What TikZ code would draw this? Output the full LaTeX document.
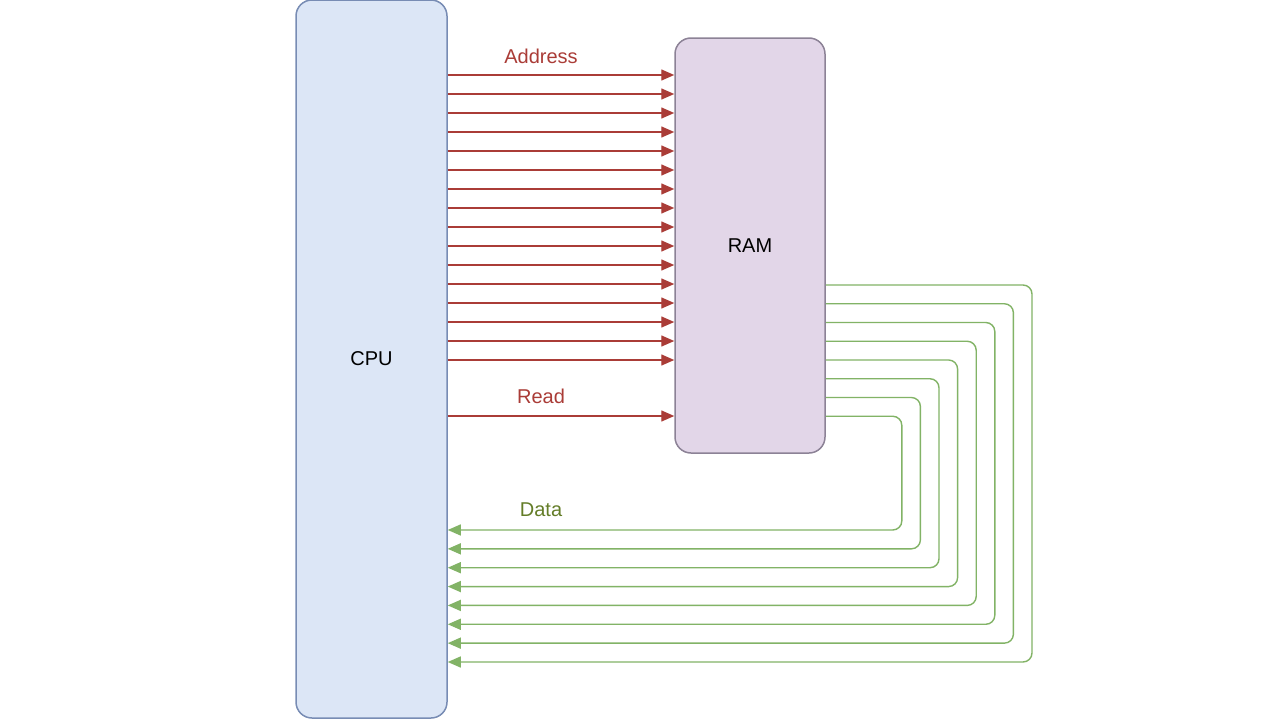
\documentclass[tikz,border=0pt]{standalone}
\usepackage{fontspec}
\setmainfont{Liberation Sans}
\usetikzlibrary{arrows.meta}
\definecolor{cpufill}{RGB}{220,230,246}
\definecolor{cpuline}{RGB}{120,140,180}
\definecolor{ramfill}{RGB}{226,214,232}
\definecolor{ramline}{RGB}{140,130,150}
\definecolor{addrred}{RGB}{170,60,55}
\definecolor{datagreen}{RGB}{130,179,102}
\definecolor{datatext}{RGB}{100,125,40}
\tikzset{
  unit/.style={draw, line width=1.5pt, rounded corners=16pt, inner sep=0pt, font=\fontsize{20}{24}\selectfont},
  lbl/.style={font=\fontsize{20}{24}\selectfont},
  addr/.style={addrred, line width=1.4pt, -{Triangle[width=11pt,length=13pt]}},
  data/.style={datagreen, line width=1.4pt, rounded corners=9pt, -{Triangle[width=11pt,length=13pt]}},
}
\begin{document}
\begin{tikzpicture}[x=1pt,y=-1pt]
  \useasboundingbox (0,0) rectangle (1280,720);
  \fill[white] (0,0) rectangle (1280,720);

  \node[unit, draw=cpuline, fill=cpufill, minimum width=151pt, minimum height=718pt] (cpu) at (371.5,359) {CPU};
  \node[unit, draw=ramline, fill=ramfill, minimum width=150pt, minimum height=415pt] (ram) at (750,245.5) {RAM};

  % address bus
  \foreach \i in {0,...,15}{
    \coordinate (a\i) at (0,75+19*\i);
    \draw[addr] (cpu.east |- a\i) -- (ram.west |- a\i);
  }
  \node[lbl, text=addrred] (address) at (541,56) {Address};

  % read line
  \coordinate (rd) at (0,416);
  \draw[addr] (cpu.east |- rd) -- (ram.west |- rd);
  \node[lbl, text=addrred] (read) at (541,396) {Read};

  % data bus
  \foreach \i in {0,...,7}{
    \coordinate (ds\i) at (0,285+18.75*\i);
    \coordinate (dx\i) at (1032-18.6*\i,0);
    \coordinate (de\i) at (0,662-18.86*\i);
    \draw[data] (ram.east |- ds\i) -| (dx\i |- de\i) -- (cpu.east |- de\i);
  }
  \node[lbl, text=datatext] (data) at (541,510) {Data};
\end{tikzpicture}
\end{document}
